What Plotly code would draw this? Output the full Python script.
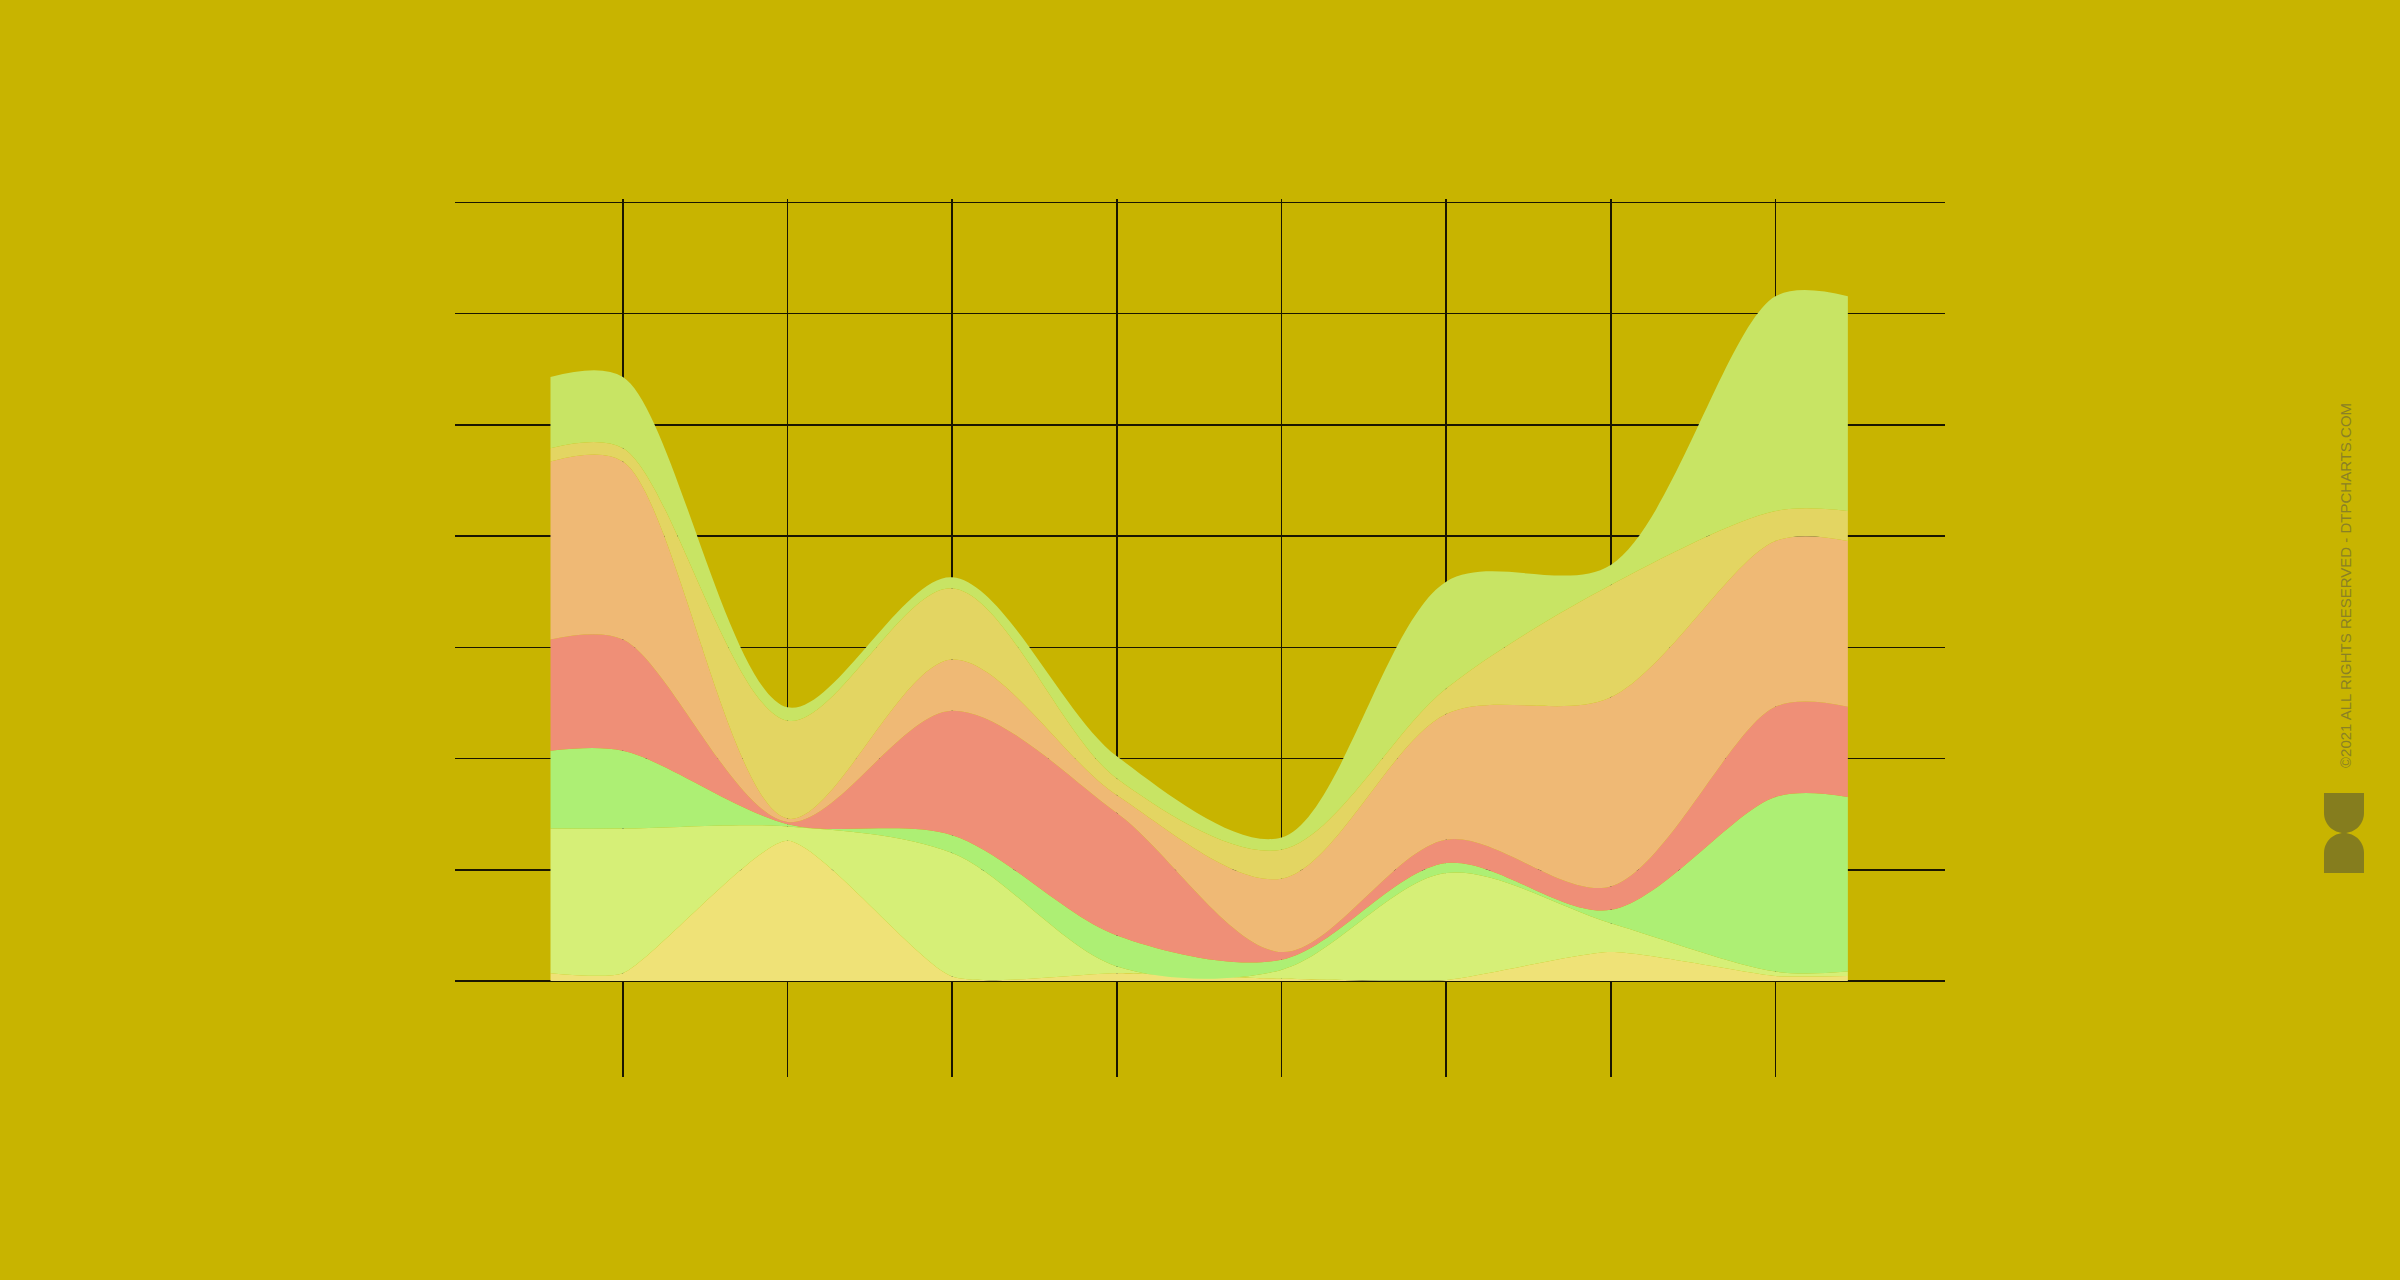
import plotly.graph_objects as go

# ---- data (10 units = one grid step) ----
x_pos = [0.56, 1, 2, 3, 4, 5, 6, 7, 8, 8.44]

s1_yellow      = [0.7, 0.7, 12.6, 0.4, 0.7, 0.2, 0.1, 2.6, 0.45, 0.45]
s2_lime        = [13.0, 13.0, 1.3, 11.1, 0.6, 0.8, 9.6, 2.6, 0.4, 0.4]
s3_green       = [7.0, 7.0, 0.2, 1.6, 2.8, 0.9, 0.9, 1.2, 15.7, 15.7]
s4_salmon      = [10.0, 10.0, 0.2, 11.2, 11.0, 0.7, 2.1, 2.1, 8.1, 8.1]
s5_orange      = [16.0, 16.0, 0.3, 4.6, 1.6, 6.6, 11.3, 17.0, 14.9, 14.9]
s6_gold        = [1.2, 1.2, 8.8, 6.4, 1.5, 2.6, 2.3, 10.1, 2.7, 2.7]
s7_yellowgreen = [6.4, 6.4, 1.2, 1.0, 2.0, 1.1, 9.6, 1.8, 19.3, 19.3]

series = [s1_yellow, s2_lime, s3_green, s4_salmon, s5_orange, s6_gold, s7_yellowgreen]
colors = ["#EFE277", "#D6EF77", "#ADEF74", "#EF8F77", "#EFB975", "#E3D562", "#C8E464"]
smooth = [0.55, 0.9, 0.9, 0.9, 0.9, 0.9, 0.9]

x_grid = [1, 2, 3, 4, 5, 6, 7, 8]
y_grid = [0, 10, 20, 30, 40, 50, 60, 70]

BG = "#C8B400"
W, H = 2400, 1280
ML, MR, MT, MB = 455, 455, 199, 203

fig = go.Figure()
for vals, col, sm in zip(series, colors, smooth):
    fig.add_trace(go.Scatter(
        x=x_pos, y=vals, stackgroup="one", mode="lines",
        line=dict(width=0, shape="spline", smoothing=sm, color=col),
        fillcolor=col, hoverinfo="skip", showlegend=False,
    ))

fig.update_layout(
    width=W, height=H,
    paper_bgcolor=BG, plot_bgcolor=BG,
    margin=dict(l=ML, r=MR, t=MT, b=MB),
    showlegend=False,
)
fig.update_xaxes(range=[-0.02, 9.03], tickvals=x_grid, showticklabels=False,
                 showgrid=True, gridcolor="#1a1600", gridwidth=1.5,
                 zeroline=False, showline=False, ticks="")
fig.update_yaxes(range=[-8.63, 70.3], tickvals=y_grid, showticklabels=False,
                 showgrid=True, gridcolor="#1a1600", gridwidth=1.5,
                 zeroline=False, showline=False, ticks="")

# ---- watermark & logo (figure decoration, pixel positions -> paper coords) ----
pw, ph = W - ML - MR, H - MT - MB
def px(xp): return (xp - ML) / pw
def py(yp): return (H - MB - yp) / ph

fig.add_annotation(
    text="©2021 ALL RIGHTS RESERVED - DTPCHARTS.COM",
    xref="paper", yref="paper", x=px(2345), y=py(586),
    textangle=-90, showarrow=False, xanchor="center", yanchor="middle",
    font=dict(family="Liberation Sans, Arial, sans-serif", size=15, color="#8a8125"),
)

k = 0.5523 * 20
def P(a, b): return f"{px(a):.5f},{py(b):.5f}"
top_shape = (f"M{P(2324,793)} L{P(2364,793)} L{P(2364,813)} "
             f"C{P(2364,813+k)} {P(2344+k,833)} {P(2344,833)} "
             f"C{P(2344-k,833)} {P(2324,813+k)} {P(2324,813)} Z")
bot_shape = (f"M{P(2324,873)} L{P(2364,873)} L{P(2364,853)} "
             f"C{P(2364,853-k)} {P(2344+k,833)} {P(2344,833)} "
             f"C{P(2344-k,833)} {P(2324,853-k)} {P(2324,853)} Z")
for pth in (top_shape, bot_shape):
    fig.add_shape(type="path", path=pth, xref="paper", yref="paper",
                  fillcolor="#857D1E", line=dict(width=0), layer="above")

fig.write_html(
    "out.html",
    config={"displayModeBar": False, "staticPlot": True},
    post_script=("document.body.style.margin='0';"
                 "document.body.style.padding='0';"
                 "document.body.style.background='" + BG + "';"
                 "document.documentElement.style.background='" + BG + "';"),
)
